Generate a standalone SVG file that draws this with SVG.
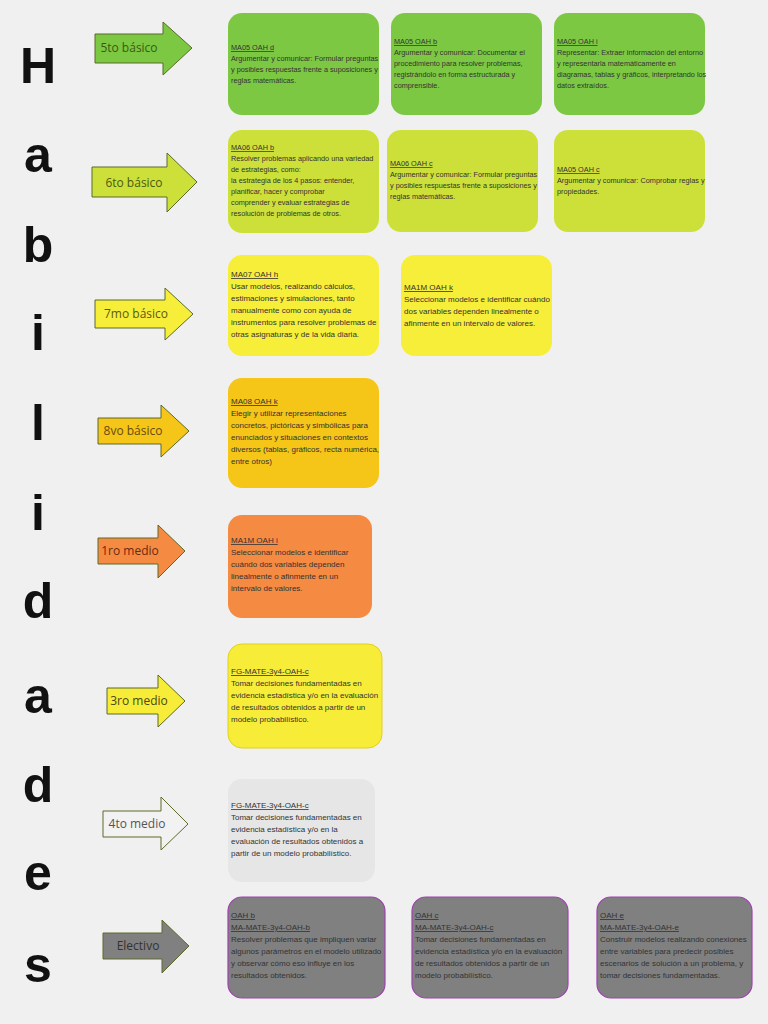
<svg xmlns="http://www.w3.org/2000/svg" width="768" height="1024" viewBox="0 0 768 1024">
<style>
.big{font-family:"Liberation Sans",Arial,sans-serif;font-weight:bold;font-size:50px;fill:#111;text-anchor:middle}
.t{font-family:"Liberation Sans",Arial,sans-serif;font-size:7.3px;fill:#333}
.h{text-decoration:underline}
.al{font-family:"Open Sans","Liberation Sans",sans-serif;font-size:12px;text-anchor:middle}
.box{rx:14;ry:14}
.arr{stroke:#5a6b2a;stroke-width:1}
</style>
<rect width="768" height="1024" fill="#f0f0f0"/>
<g id="title">
<text class="big" x="38" y="83">H</text>
<text class="big" x="38" y="172">a</text>
<text class="big" x="38" y="262">b</text>
<text class="big" x="38" y="350">i</text>
<text class="big" x="38" y="440">l</text>
<text class="big" x="38" y="530">i</text>
<text class="big" x="38" y="618">d</text>
<text class="big" x="38" y="713">a</text>
<text class="big" x="38" y="802">d</text>
<text class="big" x="38" y="890">e</text>
<text class="big" x="38" y="982">s</text>
</g>
<g id="connectors">
<g id="a5"><path class="arr" fill="#7dc843" d="M95,34H163V22L192,48L163,75V63H95Z"/><text class="al" x="129" y="52" fill="#3a5a10">5to básico</text></g>
<g id="a6"><path class="arr" fill="#cde03a" d="M92,167H167V153L197,182L167,212V197H92Z"/><text class="al" x="134" y="187" fill="#4a5a10">6to básico</text></g>
<g id="a7"><path class="arr" fill="#f7ee3a" d="M95,300H165V288L193,314L165,340V328H95Z"/><text class="al" x="136" y="318" fill="#5a5a10">7mo básico</text></g>
<g id="a8"><path class="arr" fill="#f5c518" d="M98,418H161V405L189,431L161,457V444H98Z"/><text class="al" x="133" y="435" fill="#6a4a10">8vo básico</text></g>
<g id="a1"><path class="arr" fill="#f58a42" d="M98,538H158V525L185,551L158,578V564H98Z"/><text class="al" x="130" y="555" fill="#6a2a10">1ro medio</text></g>
<g id="a3"><path class="arr" fill="#f7ed38" d="M107,688H158V675L185,701L158,727V714H107Z"/><text class="al" x="139" y="705" fill="#4a4a10">3ro medio</text></g>
<g id="a4"><path class="arr" stroke="#888" fill="#f2f2f2" d="M103,811H161V797L188,824L161,850V837H103Z"/><text class="al" x="137" y="828" fill="#555">4to medio</text></g>
<g id="ae"><path class="arr" stroke="#555" fill="#808080" d="M103,933H162V920L189,946L162,973V959H103Z"/><text class="al" x="138" y="950" fill="#333">Electivo</text></g>
</g>
<g id="n1" ><rect class="box" x="228" y="13" width="151" height="102" fill="#7dc843"/><text class="t" x="231"><tspan x="231" y="50" class="h">MA05 OAH d</tspan><tspan x="231" y="61">Argumentar y comunicar: Formular preguntas</tspan><tspan x="231" y="72">y posibles respuestas frente a suposiciones y</tspan><tspan x="231" y="83">reglas matemáticas.</tspan></text></g>
<g id="n2"><rect class="box" x="391" y="13" width="151" height="102" fill="#7dc843"/><text class="t"><tspan x="394" y="44" class="h">MA05 OAH b</tspan><tspan x="394" y="55">Argumentar y comunicar: Documentar el</tspan><tspan x="394" y="66">procedimiento para resolver problemas,</tspan><tspan x="394" y="77">registrándolo en forma estructurada y</tspan><tspan x="394" y="88">comprensible.</tspan></text></g>
<g id="n3"><rect class="box" x="554" y="13" width="151" height="102" fill="#7dc843"/><text class="t"><tspan x="557" y="44" class="h">MA05 OAH i</tspan><tspan x="557" y="55">Representar: Extraer información del entorno</tspan><tspan x="557" y="66">y representarla matemáticamente en</tspan><tspan x="557" y="77">diagramas, tablas y gráficos, interpretando los</tspan><tspan x="557" y="88">datos extraídos.</tspan></text></g>
<g id="n4"><rect class="box" x="228" y="130" width="151" height="103" fill="#cde03a"/><text class="t"><tspan x="231" y="150" class="h">MA06 OAH b</tspan><tspan x="231" y="161">Resolver problemas aplicando una variedad</tspan><tspan x="231" y="172">de estrategias, como:</tspan><tspan x="231" y="183">la estrategia de los 4 pasos: entender,</tspan><tspan x="231" y="194">planificar, hacer y comprobar</tspan><tspan x="231" y="205">comprender y evaluar estrategias de</tspan><tspan x="231" y="216">resolución de problemas de otros.</tspan></text></g>
<g id="n5"><rect class="box" x="387" y="130" width="151" height="102" fill="#cde03a"/><text class="t"><tspan x="390" y="166" class="h">MA06 OAH c</tspan><tspan x="390" y="177">Argumentar y comunicar: Formular preguntas</tspan><tspan x="390" y="188">y posibles respuestas frente a suposiciones y</tspan><tspan x="390" y="199">reglas matemáticas.</tspan></text></g>
<g id="n6"><rect class="box" x="554" y="130" width="151" height="102" fill="#cde03a"/><text class="t"><tspan x="557" y="172" class="h">MA05 OAH c</tspan><tspan x="557" y="183">Argumentar y comunicar: Comprobar reglas y</tspan><tspan x="557" y="194">propiedades.</tspan></text></g>
<g id="n7"><rect class="box" x="228" y="255" width="151" height="101" fill="#f7ee3a"/><text class="t" style="font-size:8px"><tspan x="231" y="277" class="h">MA07 OAH h</tspan><tspan x="231" y="289">Usar modelos, realizando cálculos,</tspan><tspan x="231" y="301">estimaciones y simulaciones, tanto</tspan><tspan x="231" y="313">manualmente como con ayuda de</tspan><tspan x="231" y="325">instrumentos para resolver problemas de</tspan><tspan x="231" y="337">otras asignaturas y de la vida diaria.</tspan></text></g>
<g id="n8"><rect class="box" x="401" y="255" width="151" height="101" fill="#f7ee3a"/><text class="t" style="font-size:8px"><tspan x="404" y="290" class="h">MA1M OAH k</tspan><tspan x="404" y="302">Seleccionar modelos e identificar cuándo</tspan><tspan x="404" y="314">dos variables dependen linealmente o</tspan><tspan x="404" y="326">afinmente en un intervalo de valores.</tspan></text></g>
<g id="n9"><rect class="box" x="228" y="378" width="151" height="110" fill="#f5c518"/><text class="t" style="font-size:8px"><tspan x="231" y="404" class="h">MA08 OAH k</tspan><tspan x="231" y="416">Elegir y utilizar representaciones</tspan><tspan x="231" y="428">concretos, pictóricas y simbólicas para</tspan><tspan x="231" y="440">enunciados y situaciones en contextos</tspan><tspan x="231" y="452">diversos (tablas, gráficos, recta numérica,</tspan><tspan x="231" y="464">entre otros)</tspan></text></g>
<g id="n10"><rect class="box" x="228" y="515" width="144" height="103" fill="#f58a42"/><text class="t" style="font-size:8px"><tspan x="231" y="543" class="h">MA1M OAH i</tspan><tspan x="231" y="555">Seleccionar modelos e identificar</tspan><tspan x="231" y="567">cuándo dos variables dependen</tspan><tspan x="231" y="579">linealmente o afinmente en un</tspan><tspan x="231" y="591">intervalo de valores.</tspan></text></g>
<g id="n11"><rect class="box" x="228" y="644" width="154" height="104" fill="#f7ed38" stroke="#e0d020"/><text class="t" style="font-size:8px"><tspan x="231" y="674" class="h">FG-MATE-3y4-OAH-c</tspan><tspan x="231" y="686">Tomar decisiones fundamentadas en</tspan><tspan x="231" y="698">evidencia estadística y/o en la evaluación</tspan><tspan x="231" y="710">de resultados obtenidos a partir de un</tspan><tspan x="231" y="722">modelo probabilístico.</tspan></text></g>
<g id="n12"><rect class="box" x="228" y="779" width="147" height="103" fill="#e6e6e6"/><text class="t" style="font-size:8px"><tspan x="231" y="808" class="h">FG-MATE-3y4-OAH-c</tspan><tspan x="231" y="820">Tomar decisiones fundamentadas en</tspan><tspan x="231" y="832">evidencia estadística y/o en la</tspan><tspan x="231" y="844">evaluación de resultados obtenidos a</tspan><tspan x="231" y="856">partir de un modelo probabilístico.</tspan></text></g>
<g id="n13"><rect class="box" x="228" y="897" width="157" height="101" fill="#808080" stroke="#a040b0" stroke-width="1.2"/><text class="t" style="font-size:8px" fill="#222"><tspan x="231" y="918" class="h">OAH b</tspan><tspan x="231" y="930" class="h">MA-MATE-3y4-OAH-b</tspan><tspan x="231" y="942">Resolver problemas que impliquen variar</tspan><tspan x="231" y="954">algunos parámetros en el modelo utilizado</tspan><tspan x="231" y="966">y observar cómo eso influye en los</tspan><tspan x="231" y="978">resultados obtenidos.</tspan></text></g>
<g id="n14"><rect class="box" x="412" y="897" width="156" height="101" fill="#808080" stroke="#a040b0" stroke-width="1.2"/><text class="t" style="font-size:8px"><tspan x="415" y="918" class="h">OAH c</tspan><tspan x="415" y="930" class="h">MA-MATE-3y4-OAH-c</tspan><tspan x="415" y="942">Tomar decisiones fundamentadas en</tspan><tspan x="415" y="954">evidencia estadística y/o en la evaluación</tspan><tspan x="415" y="966">de resultados obtenidos a partir de un</tspan><tspan x="415" y="978">modelo probabilístico.</tspan></text></g>
<g id="n15"><rect class="box" x="597" y="897" width="155" height="101" fill="#808080" stroke="#a040b0" stroke-width="1.2"/><text class="t" style="font-size:8px"><tspan x="600" y="918" class="h">OAH e</tspan><tspan x="600" y="930" class="h">MA-MATE-3y4-OAH-e</tspan><tspan x="600" y="942">Construir modelos realizando conexiones</tspan><tspan x="600" y="954">entre variables para predecir posibles</tspan><tspan x="600" y="966">escenarios de solución a un problema, y</tspan><tspan x="600" y="978">tomar decisiones fundamentadas.</tspan></text></g>
</svg>
